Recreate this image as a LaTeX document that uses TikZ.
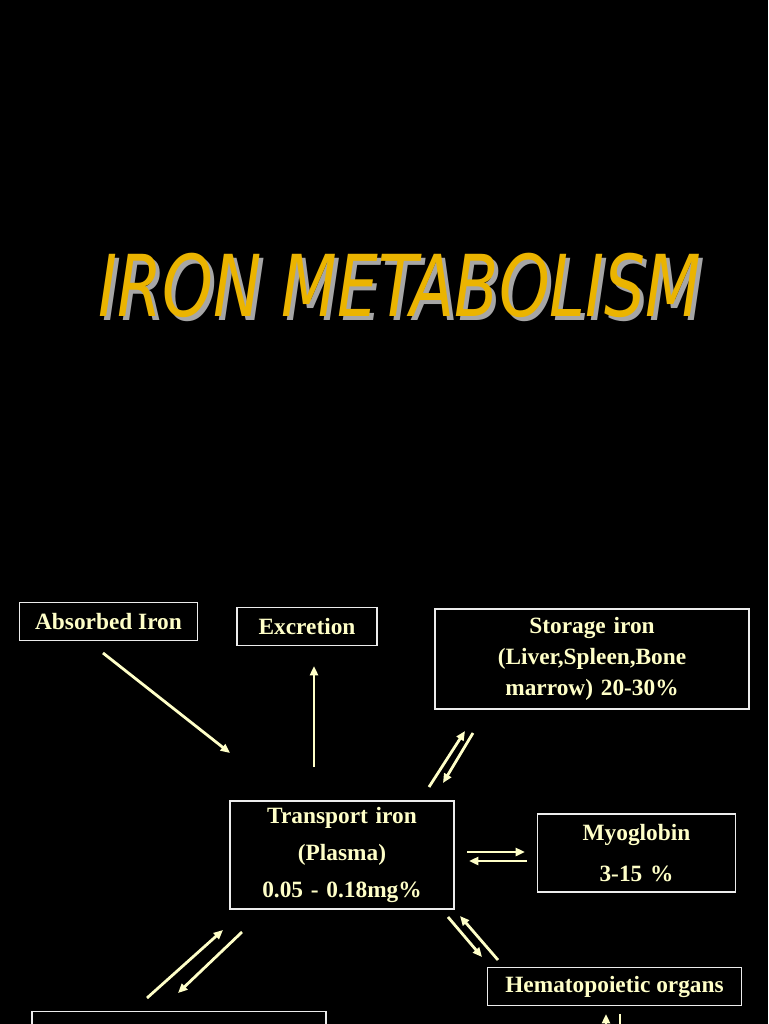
\documentclass[tikz,border=0pt]{standalone}
\usepackage{fontspec}
\setmainfont{Liberation Serif}
\newfontfamily\titlefont{DejaVu Sans Condensed}
\usetikzlibrary{arrows.meta}
\definecolor{cream}{RGB}{255,255,200}
\definecolor{gold}{RGB}{235,180,0}
\begin{document}
\begin{tikzpicture}[x=0.75pt,y=-0.75pt,
  box/.style={draw=white!85!gray,line width=0.8pt,text=cream,font=\bfseries\fontsize{17.5}{21}\selectfont,inner sep=0pt},
  arr/.style={cream,line width=2.1pt,-{Triangle[length=7pt,width=6pt]}}]
\path[use as bounding box,fill=black] (0,0) rectangle (768,1024);
\begin{scope}
\clip (0,0) rectangle (768,1024);
\node[text=gray!70,font=\titlefont\itshape\fontsize{64}{70}\selectfont,xscale=0.84] (shadow) at (404,289) {IRON METABOLISM};
\node[text=gold,font=\titlefont\itshape\fontsize{64}{70}\selectfont,xscale=0.84] (title) at (400,285) {IRON METABOLISM};
\node[box,minimum width=134pt,minimum height=29pt] (abs) at (108.5,621.5) {Absorbed Iron};
\node[box,minimum width=105pt,minimum height=29pt] (exc) at (307,626.5) {Excretion};
\node[box,minimum width=235.5pt,minimum height=75pt,align=center,text width=230pt] (sto) at (592,659) {Storage iron\\[2pt](Liver,Spleen,Bone\\[2pt]marrow) 20-30\%};
\node[box,minimum width=168pt,minimum height=81pt,align=center,text width=160pt] (tra) at (342,855) {Transport iron\\[7pt](Plasma)\\[7pt]0.05 - 0.18mg\%};
\node[box,minimum width=149pt,minimum height=58.5pt,align=center,text width=140pt] (myo) at (636.5,853) {Myoglobin\\[10pt]3-15 \%};
\node[box,minimum width=191pt,minimum height=29pt] (hem) at (614.5,986.5) {Hematopoietic organs};
\node[box,minimum width=220.5pt,minimum height=40pt,anchor=north] (fun) at (179,1011) {Functional Tissue iron};
\coordinate (a1) at (103,653); \coordinate (a2) at (230,753);
\draw[arr] (a1) -- (a2);
\coordinate (e1) at (314,767); \coordinate (e2) at (314,666);
\draw[arr] (e1) -- (e2);
\coordinate (s1) at (429,787); \coordinate (s2) at (465,731);
\coordinate (s3) at (473,733); \coordinate (s4) at (443,783);
\draw[arr] (s1) -- (s2); \draw[arr] (s3) -- (s4);
\coordinate (m1) at (467,852); \coordinate (m2) at (525,852);
\coordinate (m3) at (527,861); \coordinate (m4) at (469,861);
\draw[arr] (m1) -- (m2); \draw[arr] (m3) -- (m4);
\coordinate (f1) at (147,998); \coordinate (f2) at (223,930);
\coordinate (f3) at (242,932); \coordinate (f4) at (178,993);
\draw[arr] (f1) -- (f2); \draw[arr] (f3) -- (f4);
\coordinate (h1) at (448,917); \coordinate (h2) at (482,957);
\coordinate (h3) at (498,960); \coordinate (h4) at (460,916);
\draw[arr] (h1) -- (h2); \draw[arr] (h3) -- (h4);
\coordinate (b1) at (606,1040); \coordinate (b2) at (606,1014);
\draw[arr] (b1) -- (b2);
\coordinate (b3) at (620,1014); \coordinate (b4) at (620,1040);
\draw[arr] (b3) -- (b4);
\end{scope}
\end{tikzpicture}
\end{document}
